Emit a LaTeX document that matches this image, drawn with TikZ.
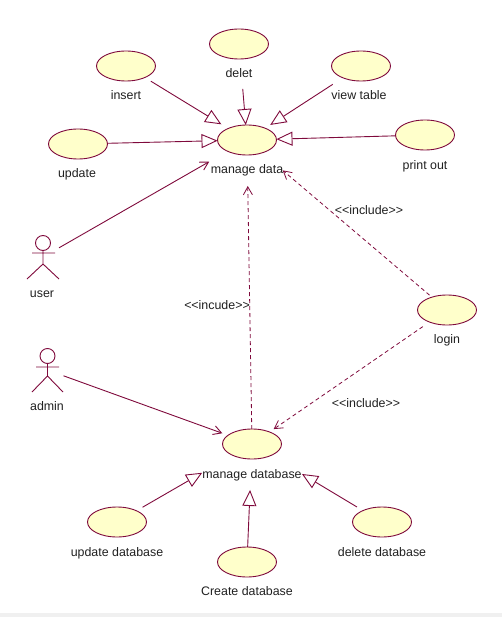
\documentclass[tikz,border=0pt]{standalone}
\usepackage{fontspec}
\setmainfont{Liberation Sans}
\usepackage{xcolor}
\usetikzlibrary{arrows.meta,shapes.geometric}
\definecolor{umlline}{HTML}{7F0A3C}
\definecolor{umlfill}{HTML}{FFFFCB}
\definecolor{stripbar}{HTML}{F0F0F0}
\definecolor{lbltext}{HTML}{202020}

\begin{document}
\begin{tikzpicture}[
    x=1pt,y=-1pt,
    font=\fontsize{12.4pt}{14pt}\selectfont,
    uc/.style={draw=umlline,fill=umlfill,ellipse,line width=0.9pt,inner sep=0pt,outer sep=0pt,
               minimum width=59pt,minimum height=30pt},
    lbl/.style={text=lbltext,inner sep=0pt,text height=9pt,text depth=2.5pt},
    actorbox/.style={inner sep=0pt,outer sep=0pt,minimum width=32pt,minimum height=44pt},
    actorline/.style={draw=umlline,line width=0.9pt},
    head/.style={circle,draw=umlline,line width=0.9pt,inner sep=0pt,minimum size=15pt},
    gen/.style={umlline,line width=0.9pt,-{Triangle[open,length=16pt,width=14pt,fill=white]}},
    assoc/.style={umlline,line width=0.9pt,-{Straight Barb[length=8pt,width=9pt]}},
    dep/.style={assoc,line width=0.8pt,dash pattern=on 4pt off 3pt},
  ]
  \useasboundingbox (0,0) rectangle (502,617);
  \fill[stripbar] (0,613) rectangle (502,617);

  % manage data side
  \node[uc] (mdata) at (247,140) {};
  \node[lbl] (mdatalbl) at (247,170.5) {manage data};
  \node[uc] (insert) at (126,66) {};
  \node[lbl] (insertlbl) at (126,96.5) {insert};
  \node[uc] (delet) at (239,44) {};
  \node[lbl] (deletlbl) at (239,74.5) {delet};
  \node[uc] (view) at (361,66) {};
  \node[lbl] (viewlbl) at (359,96.5) {view table};
  \node[uc] (upd) at (78,144) {};
  \node[lbl] (updlbl) at (77,174.5) {update};
  \node[uc] (print) at (425,135) {};
  \node[lbl] (printlbl) at (425,166.5) {print out};
  \node[uc] (login) at (447,310) {};
  \node[lbl] (loginlbl) at (447,340.5) {login};

  % manage database side
  \node[uc] (mdb) at (252,444) {};
  \node[lbl] (mdblbl) at (252,475.5) {manage database};
  \node[uc] (upddb) at (117,522) {};
  \node[lbl] (upddblbl) at (117,553.5) {update database};
  \node[uc] (createdb) at (247,562) {};
  \node[lbl] (createdblbl) at (247,592.5) {Create database};
  \node[uc] (deldb) at (382,522) {};
  \node[lbl] (deldblbl) at (382,553.5) {delete database};

  % actors
  \node[actorbox] (user) at (43,257) {};
  \node[head] (userhead) at (43,243) {};
  \draw[actorline] (32,253) -- (55,253) (43,251) -- (43,264) -- (27,279) (43,264) -- (59,279);
  \node[lbl] (userlbl) at (42,294.5) {user};
  \node[actorbox] (admin) at (47.5,370) {};
  \node[head] (adminhead) at (47.5,356) {};
  \draw[actorline] (36,367) -- (59,367) (47.5,364) -- (47.5,376) -- (32,392) (47.5,376) -- (63,392);
  \node[lbl] (adminlbl) at (47,407.5) {admin};

  \draw[gen,shorten <=7pt,shorten >=8pt] (insert) -- (mdata);
  \draw[gen,shorten <=30pt] (delet) -- (mdata);
  \draw[gen,shorten <=12pt,shorten >=6pt] (view) -- (mdata);
  \draw[gen] (upd) -- (mdata);
  \draw[gen] (print) -- (mdata);
  \draw[assoc,shorten >=21pt] (user) -- (mdata);
  \draw[assoc,shorten >=6pt] (admin) -- (mdb);
  \draw[gen,shorten <=7pt,shorten >=35pt] (upddb) -- (mdb);
  \draw[gen,shorten >=31pt] (createdb) -- (mdb);
  \draw[gen,shorten <=7pt,shorten >=36pt] (deldb) -- (mdb);

  \draw[dep,shorten >=31pt] (mdb) -- (mdata);
  \draw[dep,shorten <=3pt,shorten >=27pt] (login) -- (mdata);
  \draw[dep,shorten <=8pt,shorten >=5pt] (login) -- (mdb);

  \node[lbl] (inclA) at (369,211.5) {<{}<include>{}>};
  \node[lbl] (inclB) at (217,306.5) {<{}<incude>{}>};
  \node[lbl] (inclC) at (366,404.5) {<{}<include>{}>};
\end{tikzpicture}
\end{document}
